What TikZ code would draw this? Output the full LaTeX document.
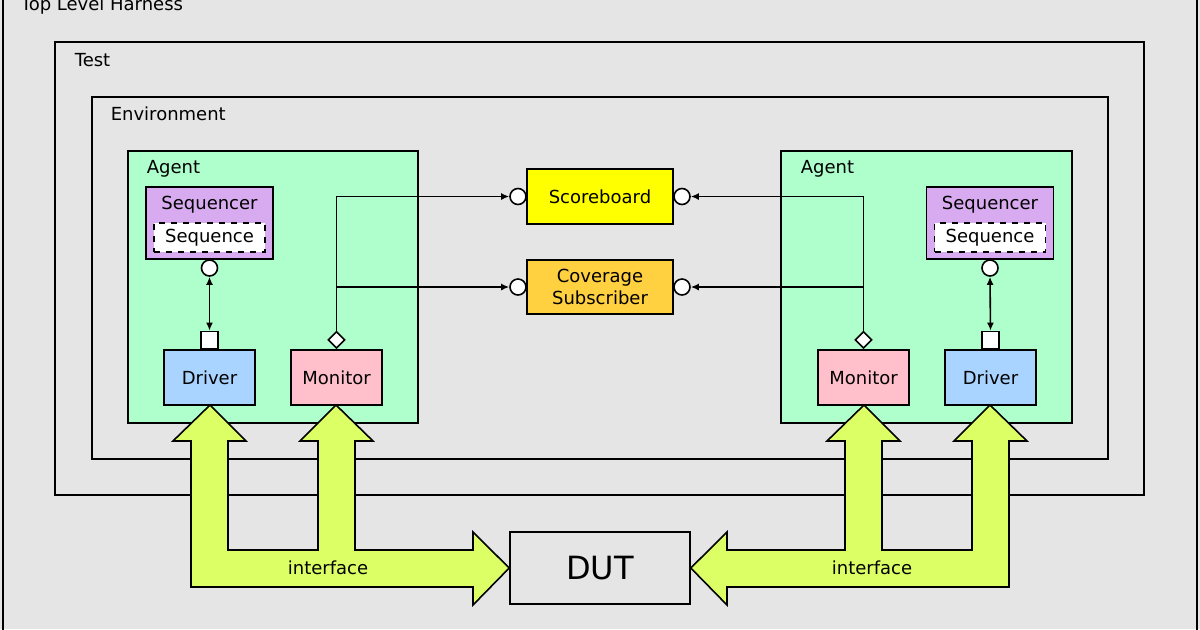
\documentclass[tikz,border=0pt]{standalone}
\usepackage{fontspec}
\setmainfont{DejaVu Sans}
\usetikzlibrary{arrows.meta,shapes.geometric}
\definecolor{bg}{HTML}{E5E5E5}
\definecolor{agentc}{HTML}{AEFFCC}
\definecolor{seqc}{HTML}{D8AAF0}
\definecolor{drvc}{HTML}{A8D4FF}
\definecolor{monc}{HTML}{FFC0CB}
\definecolor{scoc}{HTML}{FFFF00}
\definecolor{covc}{HTML}{FFD040}
\definecolor{arrc}{HTML}{DDFF66}
\begin{document}
\begin{tikzpicture}[x=0.5pt,y=-0.5pt,line width=0.8pt,
  txt/.style={font=\fontsize{9}{11}\selectfont,inner sep=0pt},
  box/.style={draw,line width=0.8pt,inner sep=0pt,font=\fontsize{9}{11}\selectfont},
  port/.style={circle,draw,fill=white,minimum size=8pt,inner sep=0pt},
  sq/.style={rectangle,draw,fill=white,minimum size=8.5pt,inner sep=0pt},
  dia/.style={diamond,draw,fill=white,minimum size=8.5pt,inner sep=0pt},
  conn/.style={line width=0.8pt,-{Latex[length=4pt,width=3.5pt]}},
  dconn/.style={line width=0.8pt,{Latex[length=4pt,width=3.5pt]}-{Latex[length=4pt,width=3.5pt]}},
  fat/.style={draw,fill=arrc,line width=0.8pt,line join=miter}]
\useasboundingbox (0,0) rectangle (1200,629);
\fill[bg] (0,0) rectangle (1200,629);
\begin{scope}
\clip (0,0) rectangle (1200,629);
\draw (3,-20) rectangle (1197,650);
\end{scope}
\node[txt,anchor=west] (tlh) at (20,6) {Top Level Harness};
\draw (55,42) rectangle (1144,495);
\node[txt,anchor=west] (test) at (74,60) {Test};
\draw (92,97) rectangle (1108,459);
\node[txt,anchor=west] (env) at (110,114) {Environment};
% agents
\node[box,fill=agentc,minimum width=145pt,minimum height=136pt] (agL) at (273,287) {};
\node[txt,anchor=west] (agLt) at (146,169) {Agent};
\node[box,fill=agentc,minimum width=145.5pt,minimum height=136pt] (agR) at (926.5,287) {};
\node[txt,anchor=west] (agRt) at (800,169) {Agent};
% left agent
\node[box,fill=seqc,minimum width=63.5pt,minimum height=36pt] (seqL) at (209.5,223) {};
\node[txt] (seqLt) at (209.5,205) {Sequencer};
\node[box,fill=white,dashed,minimum width=55.5pt,minimum height=14.5pt] (sqnL) at (209.5,237.5) {Sequence};
\node[port] (cL) at (209.5,268) {};
\node[box,fill=drvc,minimum width=45.5pt,minimum height=27.5pt] (drvL) at (209.5,377.5) {Driver};
\node[sq,anchor=south] (sqL) at (drvL.north) {};
\node[box,fill=monc,minimum width=45.5pt,minimum height=27.5pt] (monL) at (336.5,377.5) {Monitor};
\node[dia,anchor=south] (dL) at (monL.north) {};
% right agent
\node[box,fill=seqc,minimum width=63.5pt,minimum height=36pt] (seqR) at (990,223) {};
\node[txt] (seqRt) at (990,205) {Sequencer};
\node[box,fill=white,dashed,minimum width=55.5pt,minimum height=14.5pt] (sqnR) at (990,237.5) {Sequence};
\node[port] (cR) at (990,268) {};
\node[box,fill=drvc,minimum width=45.5pt,minimum height=27.5pt] (drvR) at (990.5,377.5) {Driver};
\node[sq,anchor=south] (sqR) at (drvR.north) {};
\node[box,fill=monc,minimum width=45.5pt,minimum height=27.5pt] (monR) at (863.5,377.5) {Monitor};
\node[dia,anchor=south] (dR) at (monR.north) {};
% middle
\node[box,fill=scoc,minimum width=73pt,minimum height=27.5pt] (sco) at (600,196.5) {Scoreboard};
\node[box,fill=covc,minimum width=73pt,minimum height=27pt,align=center] (cov) at (600,287) {Coverage\\Subscriber};
\node[port] (scoL) at (518,196.5) {};
\node[port] (scoR) at (682,196.5) {};
\node[port] (covL) at (518,287) {};
\node[port] (covR) at (682,287) {};
% connectors
\draw[dconn] (cL.south) -- (sqL.north);
\draw[dconn] (cR.south) -- (sqR.north);
\draw[conn] (dL.north) |- (scoL.west);
\draw[conn] (dL.north |- covL) -- (covL.west);
\draw[conn] (dR.north) |- (scoR.east);
\draw[conn] (dR.north |- covR) -- (covR.east);
% DUT
\node[draw,line width=0.8pt,minimum width=90pt,minimum height=36pt,font=\fontsize{16}{18}\selectfont] (dut) at (600,568) {DUT};
% fat arrows
\draw[fat] (210,405) -- (246,441) -- (228,441) -- (228,550) -- (318,550) -- (318,441) -- (300,441) -- (336,405) -- (373,441) -- (355,441) -- (355,550) -- (473,550) -- (473,532) -- (dut.west) -- (473,605) -- (473,587) -- (191,587) -- (191,441) -- (173,441) -- cycle;
\draw[fat] (990,405) -- (954,441) -- (972,441) -- (972,550) -- (882,550) -- (882,441) -- (900,441) -- (864,405) -- (827,441) -- (845,441) -- (845,550) -- (727,550) -- (727,532) -- (dut.east) -- (727,605) -- (727,587) -- (1009,587) -- (1009,441) -- (1027,441) -- cycle;
\node[txt] (ifL) at (328,568) {interface};
\node[txt] (ifR) at (872,568) {interface};
\end{tikzpicture}
\end{document}
